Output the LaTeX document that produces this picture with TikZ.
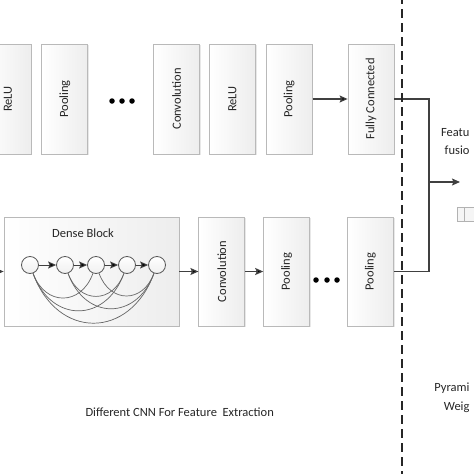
\documentclass[tikz,border=0pt]{standalone}
\usepackage{fontspec}
\setmainfont{Carlito}
\usetikzlibrary{arrows.meta,positioning,shadows}

\begin{document}
\begin{tikzpicture}[x=1pt,y=-1pt,>={Stealth[length=8pt,width=7pt,inset=1.5pt]},
every node/.style = {font=\fontsize{12.5}{15}\selectfont, text=black!85},
layer/.style={rectangle, draw=gray!55, line width=0.8pt, left color=white,
    right color=gray!14, minimum width=46pt, minimum height=110pt, inner sep=0pt,
    drop shadow={opacity=.18, shadow xshift=1.2pt, shadow yshift=-1.2pt}},
link/.style={draw=black!75, line width=1.2pt},
unit/.style={circle, draw=black!65, line width=0.8pt, top color=white,
    bottom color=gray!12, minimum size=17pt, inner sep=0pt},
skip/.style={draw=black!60, line width=0.7pt, out=-70, in=-110, looseness=1.5},
dot/.style={circle, fill=black, inner sep=0pt, minimum size=5.5pt},
cell/.style={draw=gray!60, fill=gray!8, line width=0.6pt}]
\useasboundingbox (0,0) rectangle (474,474);
\clip (0,0) rectangle (474,474);

% first network
\node [layer] (relu1) at (8,99) {\rotatebox{90}{ReLU}};
\node [layer, right=10pt of relu1] (pool1) {\rotatebox{90}{Pooling}};
\node [layer, right=65pt of pool1] (conv1) {\rotatebox{90}{Convolution}};
\node [layer, right=9pt of conv1] (relu2) {\rotatebox{90}{ReLU}};
\node [layer, right=10pt of relu2] (pool2) {\rotatebox{90}{Pooling}};
\node [layer, right=35pt of pool2] (fc) {\rotatebox{90}{Fully Connected}};
\node [dot] (d1) at (112,101) {};
\node [dot] (d2) at (122,101) {};
\node [dot] (d3) at (132,101) {};
\path [link,->] (pool2) edge (fc);

% second network
\node [layer, minimum width=175pt, minimum height=109pt] (dense) at (91.5,271.5) {};
\node (densetxt) at (83,233) {Dense Block};
\node [layer, minimum height=109pt, right=19pt of dense] (conv2) {\rotatebox{90}{Convolution}};
\node [layer, minimum height=109pt, right=18pt of conv2] (pool3) {\rotatebox{90}{Pooling}};
\node [layer, minimum height=109pt, right=37pt of pool3] (pool4) {\rotatebox{90}{Pooling}};
\node [dot] (d4) at (316,280) {};
\node [dot] (d5) at (327,280) {};
\node [dot] (d6) at (337,280) {};
\coordinate (inL) at (-20,271.5);
\path [link,->] (inL) edge (dense);
\path [link,->] (dense) edge (conv2);
\path [link,->] (conv2) edge (pool3);

% dense connections
\node [unit] (c1) at (30,265) {};
\node [unit] (c2) at (65,265) {};
\node [unit] (c3) at (96,265) {};
\node [unit] (c4) at (127,265) {};
\node [unit] (c5) at (157,265) {};
\path [link,->,line width=1pt] (c1) edge (c2);
\path [link,->,line width=1pt] (c2) edge (c3);
\path [link,->,line width=1pt] (c3) edge (c4);
\path [link,->,line width=1pt] (c4) edge (c5);
\path (c1) edge [skip] (c3);
\path (c1) edge [skip] (c4);
\path (c1) edge [skip] (c5);
\path (c2) edge [skip] (c4);
\path (c2) edge [skip] (c5);
\path (c3) edge [skip] (c5);

% fusion
\coordinate (fuse) at (429,182);
\coordinate (fuseend) at (460,182);
\draw [link] (fc.east) -| (fuse);
\draw [link] (pool4.east) -| (fuse);
\draw [link,->] (fuse) -- (fuseend);
\node [anchor=base east] (feat) at (473,136) {Featu};
\node [anchor=base east] (fus) at (473,154) {fusio};
\draw [cell] (457,207) rectangle (464,221);
\draw [cell] (464,207) rectangle (482,221);
\node [anchor=base east] (pyr) at (473,391) {Pyrami};
\node [anchor=base east] (wei) at (473,410) {Weig};

% divider and caption
\coordinate (divtop) at (402,-5);
\coordinate (divbot) at (402,480);
\draw [black!85, line width=1.3pt, dash pattern=on 9pt off 5pt] (divtop) -- (divbot);
\node [anchor=base west] (caption) at (82,416) {Different CNN For Feature~ Extraction};
\end{tikzpicture}
\end{document}
